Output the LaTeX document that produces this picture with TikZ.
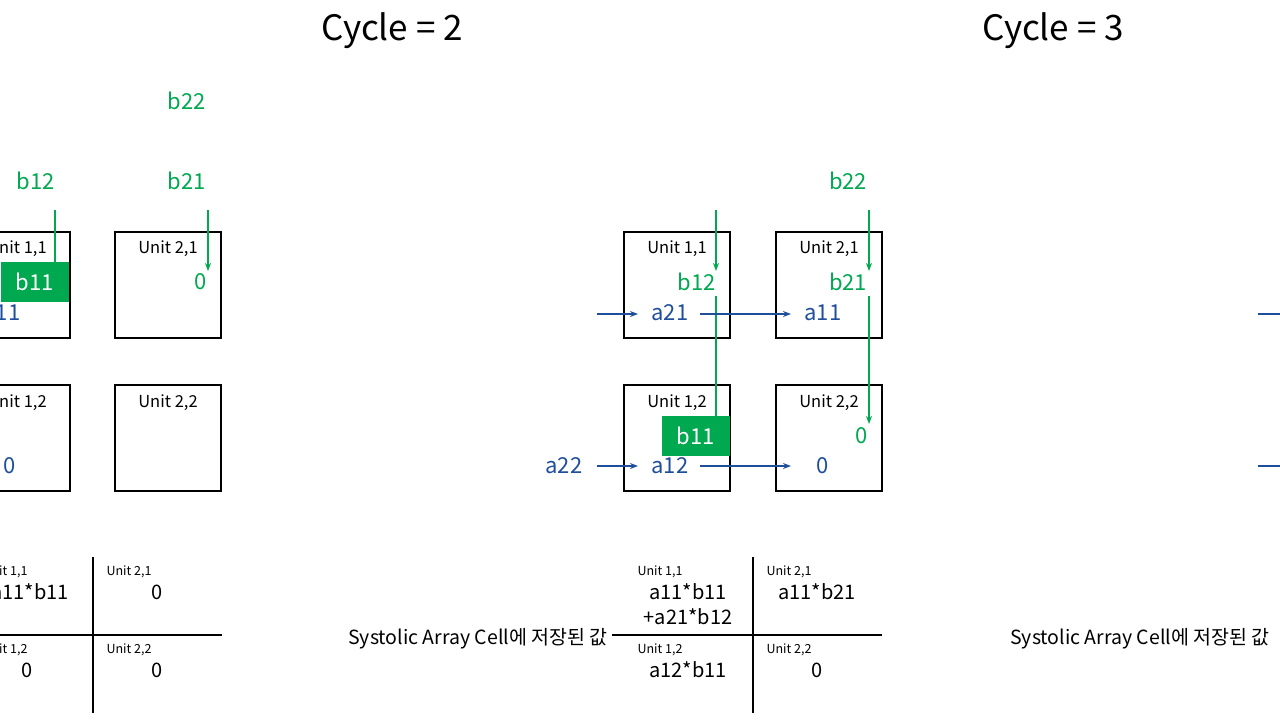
\documentclass[tikz,border=0pt]{standalone}
\usepackage{fontspec}
\setmainfont{Noto Sans CJK KR}
\usetikzlibrary{arrows.meta}
\definecolor{gr}{HTML}{00A84F}
\definecolor{bl}{HTML}{1F4E9C}
\begin{document}
\begin{tikzpicture}[x=1pt,y=-1pt,
 unitbox/.style={draw=black,line width=1.6pt,minimum width=106pt,minimum height=106pt,inner sep=0},
 ulab/.style={font=\fontsize{16.5}{18}\selectfont},
 gtxt/.style={text=gr,font=\fontsize{22}{24}\selectfont},
 btxt/.style={text=bl,font=\fontsize{22}{24}\selectfont},
 garr/.style={draw=gr,line width=1.5pt,-{Stealth[length=8pt,width=6pt]}},
 barr/.style={draw=bl,line width=1.5pt,-{Stealth[length=8pt,width=6pt]}},
 gbox/.style={fill=gr,text=white,minimum width=68pt,minimum height=40pt,inner sep=0,font=\fontsize{22}{24}\selectfont},
 tsm/.style={font=\fontsize{12.5}{14}\selectfont},
 tval/.style={font=\fontsize{20}{22}\selectfont},
 tline/.style={line width=1.3pt},
 captxt/.style={font=\fontsize{19.5}{22}\selectfont}]
\useasboundingbox (0,0) rectangle (1280,720);
\clip (0,0) rectangle (1280,720);
\node[font=\fontsize{35}{38}\selectfont] (t2) at (392,31) {Cycle = 2};
\node[font=\fontsize{35}{38}\selectfont] (t3) at (1053,31) {Cycle = 3};
% left grid
\node[unitbox] (L11) at (17,285) {};
\node[unitbox] (L21) at (168,285) {};
\node[unitbox] (L12) at (17,438) {};
\node[unitbox] (L22) at (168,438) {};
\node[ulab] at (17,249) {Unit 1,1};
\node[ulab] at (168,249) {Unit 2,1};
\node[ulab] at (17,403) {Unit 1,2};
\node[ulab] at (168,403) {Unit 2,2};
\node[gtxt] (lb22) at (187,101) {b22};
\node[gtxt] (lb12) at (36,181) {b12};
\node[gtxt] (lb21) at (187,181) {b21};
\node[btxt] (la11) at (2,313) {a11};
\node[gbox] (lb11) at (35,282) {b11};
\node[gtxt] (l0g) at (201,282) {0};
\node[btxt] (l0b) at (10,466) {0};
\coordinate (lc1) at (55,210); \coordinate (lc2) at (55,272);
\draw[garr] (lc1) -- (lc2);
\coordinate (lc3) at (208,210); \coordinate (lc4) at (208,271);
\draw[garr] (lc3) -- (lc4);
% left table
\coordinate (lv1) at (93,557); \coordinate (lv2) at (93,713);
\coordinate (lh1) at (0,635); \coordinate (lh2) at (222,635);
\draw[tline] (lv1)--(lv2); \draw[tline] (lh1)--(lh2);
\node[tsm] at (5,572) {Unit 1,1};
\node[tval] at (30,592) {a11*b11};
\node[tsm] at (129,572) {Unit 2,1};
\node[tval] at (157,592) {0};
\node[tsm] at (5,650) {Unit 1,2};
\node[tval] at (27,670) {0};
\node[tsm] at (129,650) {Unit 2,2};
\node[tval] at (157,670) {0};
\node[captxt] at (478,639) {Systolic Array Cell에 저장된 값};
\node[captxt] at (1140,639) {Systolic Array Cell에 저장된 값};
% right grid
\node[unitbox] (R11) at (677,285) {};
\node[unitbox] (R21) at (829,285) {};
\node[unitbox] (R12) at (677,438) {};
\node[unitbox] (R22) at (829,438) {};
\node[ulab] at (677,249) {Unit 1,1};
\node[ulab] at (829,249) {Unit 2,1};
\node[ulab] at (677,403) {Unit 1,2};
\node[ulab] at (829,403) {Unit 2,2};
\node[gtxt] (rb22) at (848,181) {b22};
\node[gtxt] (rb12) at (697,282) {b12};
\node[gtxt] (rb21) at (848,282) {b21};
\node[btxt] (ra21) at (670,313) {a21};
\node[btxt] (ra11) at (823,313) {a11};
\node[gbox] (rb11) at (696,436) {b11};
\node[gtxt] (r0g) at (862,436) {0};
\node[btxt] (ra22) at (564,466) {a22};
\node[btxt] (ra12) at (670,466) {a12};
\node[btxt] (r0b) at (823,466) {0};
\coordinate (a1) at (716,210); \coordinate (a2) at (716,271);
\draw[garr] (a1)--(a2);
\coordinate (a3) at (869,210); \coordinate (a4) at (869,271);
\draw[garr] (a3)--(a4);
\coordinate (a5) at (716,296); \coordinate (a6) at (716,426);
\draw[garr] (a5)--(a6);
\coordinate (a7) at (869,296); \coordinate (a8) at (869,424);
\draw[garr] (a7)--(a8);
\coordinate (b1) at (597,314); \coordinate (b2) at (638,314);
\draw[barr] (b1)--(b2);
\coordinate (b3) at (700,314); \coordinate (b4) at (791,314);
\draw[barr] (b3)--(b4);
\coordinate (b5) at (597,466); \coordinate (b6) at (638,466);
\draw[barr] (b5)--(b6);
\coordinate (b7) at (700,466); \coordinate (b8) at (791,466);
\draw[barr] (b7)--(b8);
\coordinate (b9) at (1258,314); \coordinate (b10) at (1290,314);
\draw[barr] (b9)--(b10);
\coordinate (b11) at (1258,466); \coordinate (b12) at (1290,466);
\draw[barr] (b11)--(b12);
% right table
\coordinate (rv1) at (753,557); \coordinate (rv2) at (753,713);
\coordinate (rh1) at (612,635); \coordinate (rh2) at (882,635);
\draw[tline] (rv1)--(rv2); \draw[tline] (rh1)--(rh2);
\node[tsm] at (660,572) {Unit 1,1};
\node[tval] at (688,592) {a11*b11};
\node[tval] at (688,617) {+a21*b12};
\node[tsm] at (789,572) {Unit 2,1};
\node[tval] at (817,592) {a11*b21};
\node[tsm] at (660,650) {Unit 1,2};
\node[tval] at (688,670) {a12*b11};
\node[tsm] at (789,650) {Unit 2,2};
\node[tval] at (817,670) {0};
\end{tikzpicture}
\end{document}
